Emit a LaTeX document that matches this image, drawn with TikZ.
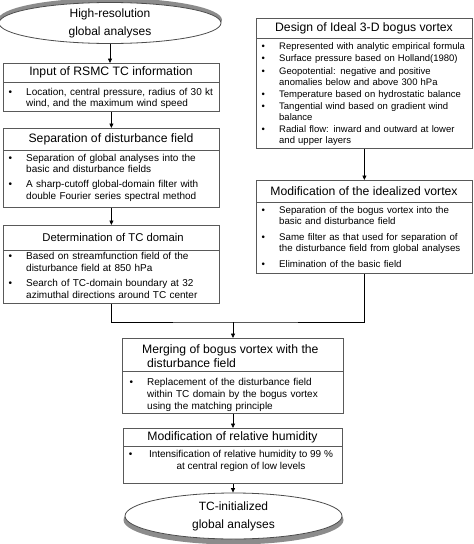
\documentclass[tikz,border=0pt]{standalone}
\usepackage{fontspec}
\setmainfont{Liberation Sans}
\usetikzlibrary{arrows.meta,shapes.geometric}
\newcommand\bitem[1]{\par\hangindent=21pt\hangafter=1\noindent\hbox to 21pt{\rule{0pt}{8pt}\hspace{3.5pt}\textbullet\hfil}#1\par}
\begin{document}
\begin{tikzpicture}[x=1pt,y=1pt,
  boxf/.style={draw=black!65, line width=0.8pt, rectangle, anchor=north west, inner sep=0pt},
  divl/.style={draw=black!65, line width=0.8pt},
  ttl/.style={font=\fontsize{12.2}{14}\selectfont, inner sep=0pt, align=center},
  bodytxt/.style={anchor=north west, inner xsep=2pt, inner ysep=0pt, text width=240, font=\fontsize{10}{12}\selectfont},
  ell/.style={draw=black!70, line width=0.8pt, fill=white},
  shad/.style={fill=black!45},
  arr/.style={-{Triangle[length=4.5pt,width=4pt]}, line width=0.8pt},
  conn/.style={line width=0.8pt}
]
\useasboundingbox (0,0) rectangle (474,-544);

% top ellipse
\fill[shad] (110,-20) ellipse [x radius=112, y radius=22];
\node[ell, ellipse, minimum width=222, minimum height=41, inner sep=0pt] (e1) at (110,-23) {};
\node[font=\fontsize{12}{18}\selectfont, align=center, inner sep=0pt] (e1t) at (e1.center) {High-resolution\\global analyses};

% box 1
\node[boxf, minimum width=216, minimum height=48] (b1) at (3,-63) {};
\draw[divl] (b1.west |- 0,-82) -- (b1.east |- 0,-82);
\node[ttl] (b1h) at (111,-72.5) {Input of RSMC TC information};
\node[bodytxt, font=\fontsize{10}{11}\selectfont] (b1t) at (3,-84.7) {\raggedright
\bitem{Location, central pressure, radius of 30 kt\newline wind, and the maximum wind speed}};

% box 2
\node[boxf, minimum width=216, minimum height=79] (b2) at (3,-128) {};
\draw[divl] (b2.west |- 0,-150) -- (b2.east |- 0,-150);
\node[ttl] (b2h) at (111,-139) {Separation of disturbance field};
\node[bodytxt, font=\fontsize{10}{11.5}\selectfont] (b2t) at (3,-149.6) {\raggedright
\bitem{Separation of global analyses into the\newline basic and disturbance fields}\vspace{3.5pt}
\bitem{A sharp-cutoff global-domain filter with\newline double Fourier series spectral method}};

% box 3
\node[boxf, minimum width=216, minimum height=78] (b3) at (3,-225) {};
\draw[divl] (b3.west |- 0,-250) -- (b3.east |- 0,-250);
\node[ttl, font=\fontsize{11.3}{13}\selectfont] (b3h) at (113,-237.5) {Determination of TC domain};
\node[bodytxt] (b3t) at (3,-247.6) {\raggedright
\bitem{Based on streamfunction field of the\newline disturbance field at 850 hPa}\vspace{3pt}
\bitem{Search of TC-domain boundary at 32\newline azimuthal directions around TC center}};

% design box
\node[boxf, minimum width=216, minimum height=130] (d) at (256,-18) {};
\draw[divl] (d.west |- 0,-38) -- (d.east |- 0,-38);
\node[ttl] (dh) at (364,-28.5) {Design of Ideal 3-D bogus vortex};
\node[bodytxt, font=\fontsize{9.5}{11}\selectfont] (dt) at (256,-38.5) {\raggedright
\bitem{Represented with analytic empirical formula}\vspace{1.2pt}
\bitem{Surface pressure based on Holland(1980)}\vspace{1.2pt}
\bitem{Geopotential: negative and positive\newline anomalies below and above 300 hPa}\vspace{1.2pt}
\bitem{Temperature based on hydrostatic balance}\vspace{1.2pt}
\bitem{Tangential wind based on gradient wind\newline balance}\vspace{1.2pt}
\bitem{Radial flow: inward and outward at lower\newline and upper layers}};

% modification box
\node[boxf, minimum width=216, minimum height=93] (m) at (256,-180) {};
\draw[divl] (m.west |- 0,-202) -- (m.east |- 0,-202);
\node[ttl] (mh) at (364,-191) {Modification of the idealized vortex};
\node[bodytxt, font=\fontsize{9.7}{11}\selectfont] (mt) at (256,-202.5) {\raggedright
\bitem{Separation of the bogus vortex into the\newline basic and disturbance field}\vspace{5pt}
\bitem{Same filter as that used for separation of\newline the disturbance field from global analyses}\vspace{5pt}
\bitem{Elimination of the basic field}};

% merging box
\node[boxf, minimum width=221, minimum height=75] (g) at (122,-338) {};
\draw[divl] (g.west |- 0,-371) -- (g.east |- 0,-371);
\node[font=\fontsize{12.2}{13.5}\selectfont, align=left, inner sep=0pt, anchor=west] (gh) at (142,-356) {Merging of bogus vortex with the\\\hspace*{5pt}disturbance field};
\node[bodytxt, inner xsep=4pt] (gt) at (122,-373.6) {\raggedright
\bitem{Replacement of the disturbance field\newline within TC domain by the bogus vortex\newline using the matching principle}};

% RH box
\node[boxf, minimum width=219, minimum height=55] (h) at (123,-428) {};
\draw[divl] (h.west |- 0,-446) -- (h.east |- 0,-446);
\node[ttl] (hh) at (232.5,-437) {Modification of relative humidity};
\node[font=\fontsize{10}{11.5}\selectfont, inner sep=0pt] (hb) at (130.5,-455) {\textbullet};
\node[font=\fontsize{10}{12}\selectfont, align=center, inner sep=0pt] (ht) at (241,-461) {Intensification of relative humidity to 99 \%\\at central region of low levels};

% bottom ellipse
\fill[shad] (233.5,-520) ellipse [x radius=110, y radius=24.5];
\node[ell, ellipse, minimum width=217, minimum height=46, inner sep=0pt] (e2) at (233.5,-516) {};
\node[font=\fontsize{12}{18}\selectfont, align=center, inner sep=0pt] (e2t) at (e2.center) {TC-initialized\\global analyses};

% connectors
\draw[arr] (e1.south) -- (e1.south |- b1.north);
\draw[arr] (b1.south) -- (b2.north);
\draw[arr] (b2.south) -- (b3.north);
\draw[arr] (d.south) -- (m.north);
\coordinate (j) at (233,-322);
\draw[conn] (b3.south) |- (j) -| (m.south);
\draw[arr] (j) -- (j |- g.north);
\draw[arr] (g.south -| j) -- (j |- h.north);
\draw[arr] (h.south -| j) -- (j |- e2.north);
\end{tikzpicture}
\end{document}
